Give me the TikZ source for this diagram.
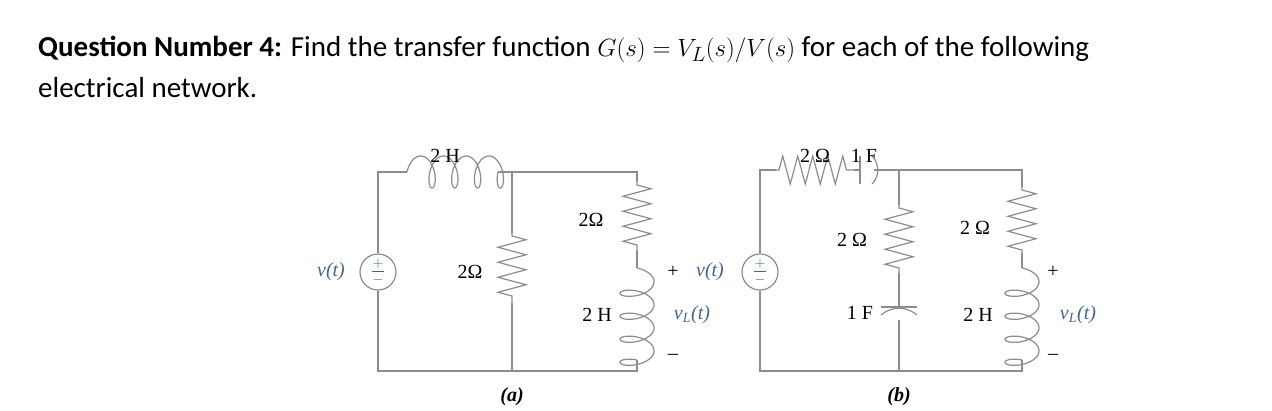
\documentclass[tikz,border=0pt]{standalone}
\usepackage{fontspec}
\setmainfont{Carlito}
\newfontfamily\circfont{Liberation Serif}
\usetikzlibrary{decorations.pathmorphing}
\begin{document}
\begin{tikzpicture}[x=1pt,y=-1pt,
  wire/.style={draw=black!45,line width=1.2pt},
  res/.style={wire,decorate,decoration={zigzag,segment length=15pt,amplitude=14pt,pre length=3pt,post length=3pt}},
  lab/.style={font=\circfont\fontsize{20}{24}\selectfont,inner sep=1pt},
  blab/.style={lab,text=cyan!50!blue!70!black,font=\circfont\itshape\fontsize{20}{24}\selectfont},
  src/.style={circle,draw=black!45,line width=1.2pt,minimum size=36pt,inner sep=0pt,font=\circfont\fontsize{20}{20}\selectfont,text=cyan!50!blue!70!black}]
\useasboundingbox (0,0) rectangle (1272,410);
\node[anchor=base west,inner sep=0pt,font=\fontsize{29}{34}\selectfont] (title) at (38,56)
  {\textbf{Question Number 4:} Find the transfer function $G(s)=V_L(s)/V(s)$ for each of the following};
\node[anchor=base west,inner sep=0pt,font=\fontsize{29}{34}\selectfont] (title2) at (38,97) {electrical network.};
% ---------- circuit (a)
\coordinate (aTL) at (378,172); \coordinate (aBL) at (378,371);
\coordinate (aL1) at (407,172); \coordinate (aL2) at (498,172);
\coordinate (aM) at (512,172); \coordinate (aMB) at (512,371);
\coordinate (aR) at (637,172); \coordinate (aRB) at (637,371);
\coordinate (aMr1) at (512,233); \coordinate (aMr2) at (512,303);
\coordinate (aRr1) at (637,182); \coordinate (aRr2) at (637,250);
\coordinate (aRl1) at (637,268); \coordinate (aRl2) at (637,360);
\node[src] (aS) at (378,272) {$\frac{+}{-}$};
\draw[wire] (aS.north) -- (aTL) -- (aL1);
\draw[wire] (aS.south) -- (aBL) -- (aMB) -- (aRB) -- (aRl2);
\draw[wire] plot[domain=0:1440,samples=240,smooth] ({407+\x/360*22.75+8*(1-cos(\x))},{172-16*sin(\x)});
\draw[wire] (aL2) -- (aM) -- (aR) -- (aRr1);
\draw[wire] (aM) -- (aMr1); \draw[res] (aMr1) -- (aMr2); \draw[wire] (aMr2) -- (aMB);
\draw[res] (aRr1) -- (aRr2); \draw[wire] (aRr2) -- (aRl1);
\draw[wire] plot[domain=0:1440,samples=240,smooth] ({637+17*sin(\x)},{268+\x/360*23+8*(1-cos(\x))});
\node[lab] (aLH) at (445,156) {2 H};
\node[lab] (aLR1) at (470,272) {2Ω};
\node[lab] (aLR2) at (591,220) {2Ω};
\node[lab] (aLH2) at (597,315) {2 H};
\node[blab] (aV) at (331,272) {v(t)};
\node[lab] (aP) at (673,272) {+};
\node[lab] (aN) at (673,357) {–};
\node[blab] (aVL) at (692,315) {v\textsubscript{\itshape L}(t)};
\node[lab,font=\circfont\bfseries\itshape\fontsize{20}{24}\selectfont] (aCap) at (512,397) {(a)};
% ---------- circuit (b)
\coordinate (bTL) at (760,170); \coordinate (bBL) at (760,371);
\coordinate (bR1) at (776,170); \coordinate (bR2) at (854,170);
\coordinate (bC1) at (860,170); \coordinate (bC2) at (874,170);
\coordinate (bM) at (899,170); \coordinate (bMB) at (899,371);
\coordinate (bR) at (1022,170); \coordinate (bRB) at (1022,371);
\coordinate (bMr1) at (899,205); \coordinate (bMr2) at (899,273);
\coordinate (bMc1) at (899,307); \coordinate (bMc2) at (899,320);
\coordinate (bRr1) at (1022,187); \coordinate (bRr2) at (1022,253);
\coordinate (bRl1) at (1022,268); \coordinate (bRl2) at (1022,360);
\node[src] (bS) at (760,272) {$\frac{+}{-}$};
\draw[wire] (bS.north) -- (bTL) -- (bR1);
\draw[wire] (bS.south) -- (bBL) -- (bMB) -- (bRB) -- (bRl2);
\draw[res] (bR1) -- (bR2); \draw[wire] (bR2) -- (bC1);
\draw[wire] ([yshift=-14]bC1) -- ([yshift=14]bC1);
\draw[wire] ([xshift=-2,yshift=-14]bC2) to[bend right=45] ([xshift=-2,yshift=14]bC2);
\draw[wire] (bC2) -- (bM) -- (bR) -- (bRr1);
\draw[wire] (bM) -- (bMr1); \draw[res] (bMr1) -- (bMr2); \draw[wire] (bMr2) -- (bMc1);
\draw[wire] ([xshift=-18]bMc1) -- ([xshift=18]bMc1);
\draw[wire] ([xshift=-18,yshift=5]bMc2) to[bend left=40] ([xshift=18,yshift=5]bMc2);
\draw[wire] (bMc2) -- (bMB);
\draw[res] (bRr1) -- (bRr2); \draw[wire] (bRr2) -- (bRl1);
\draw[wire] plot[domain=0:1440,samples=240,smooth] ({1022+17*sin(\x)},{268+\x/360*23+8*(1-cos(\x))});
\node[lab] (bLR) at (815,156) {2 Ω};
\node[lab] (bLC) at (864,156) {1 F};
\node[lab] (bLR1) at (852,240) {2 Ω};
\node[lab] (bLC1) at (860,313) {1 F};
\node[lab] (bLR2) at (975,228) {2 Ω};
\node[lab] (bLH2) at (978,315) {2 H};
\node[blab] (bV) at (710,272) {v(t)};
\node[lab] (bP) at (1053,272) {+};
\node[lab] (bN) at (1053,357) {–};
\node[blab] (bVL) at (1078,315) {v\textsubscript{\itshape L}(t)};
\node[lab,font=\circfont\bfseries\itshape\fontsize{20}{24}\selectfont] (bCap) at (899,397) {(b)};
\end{tikzpicture}
\end{document}
